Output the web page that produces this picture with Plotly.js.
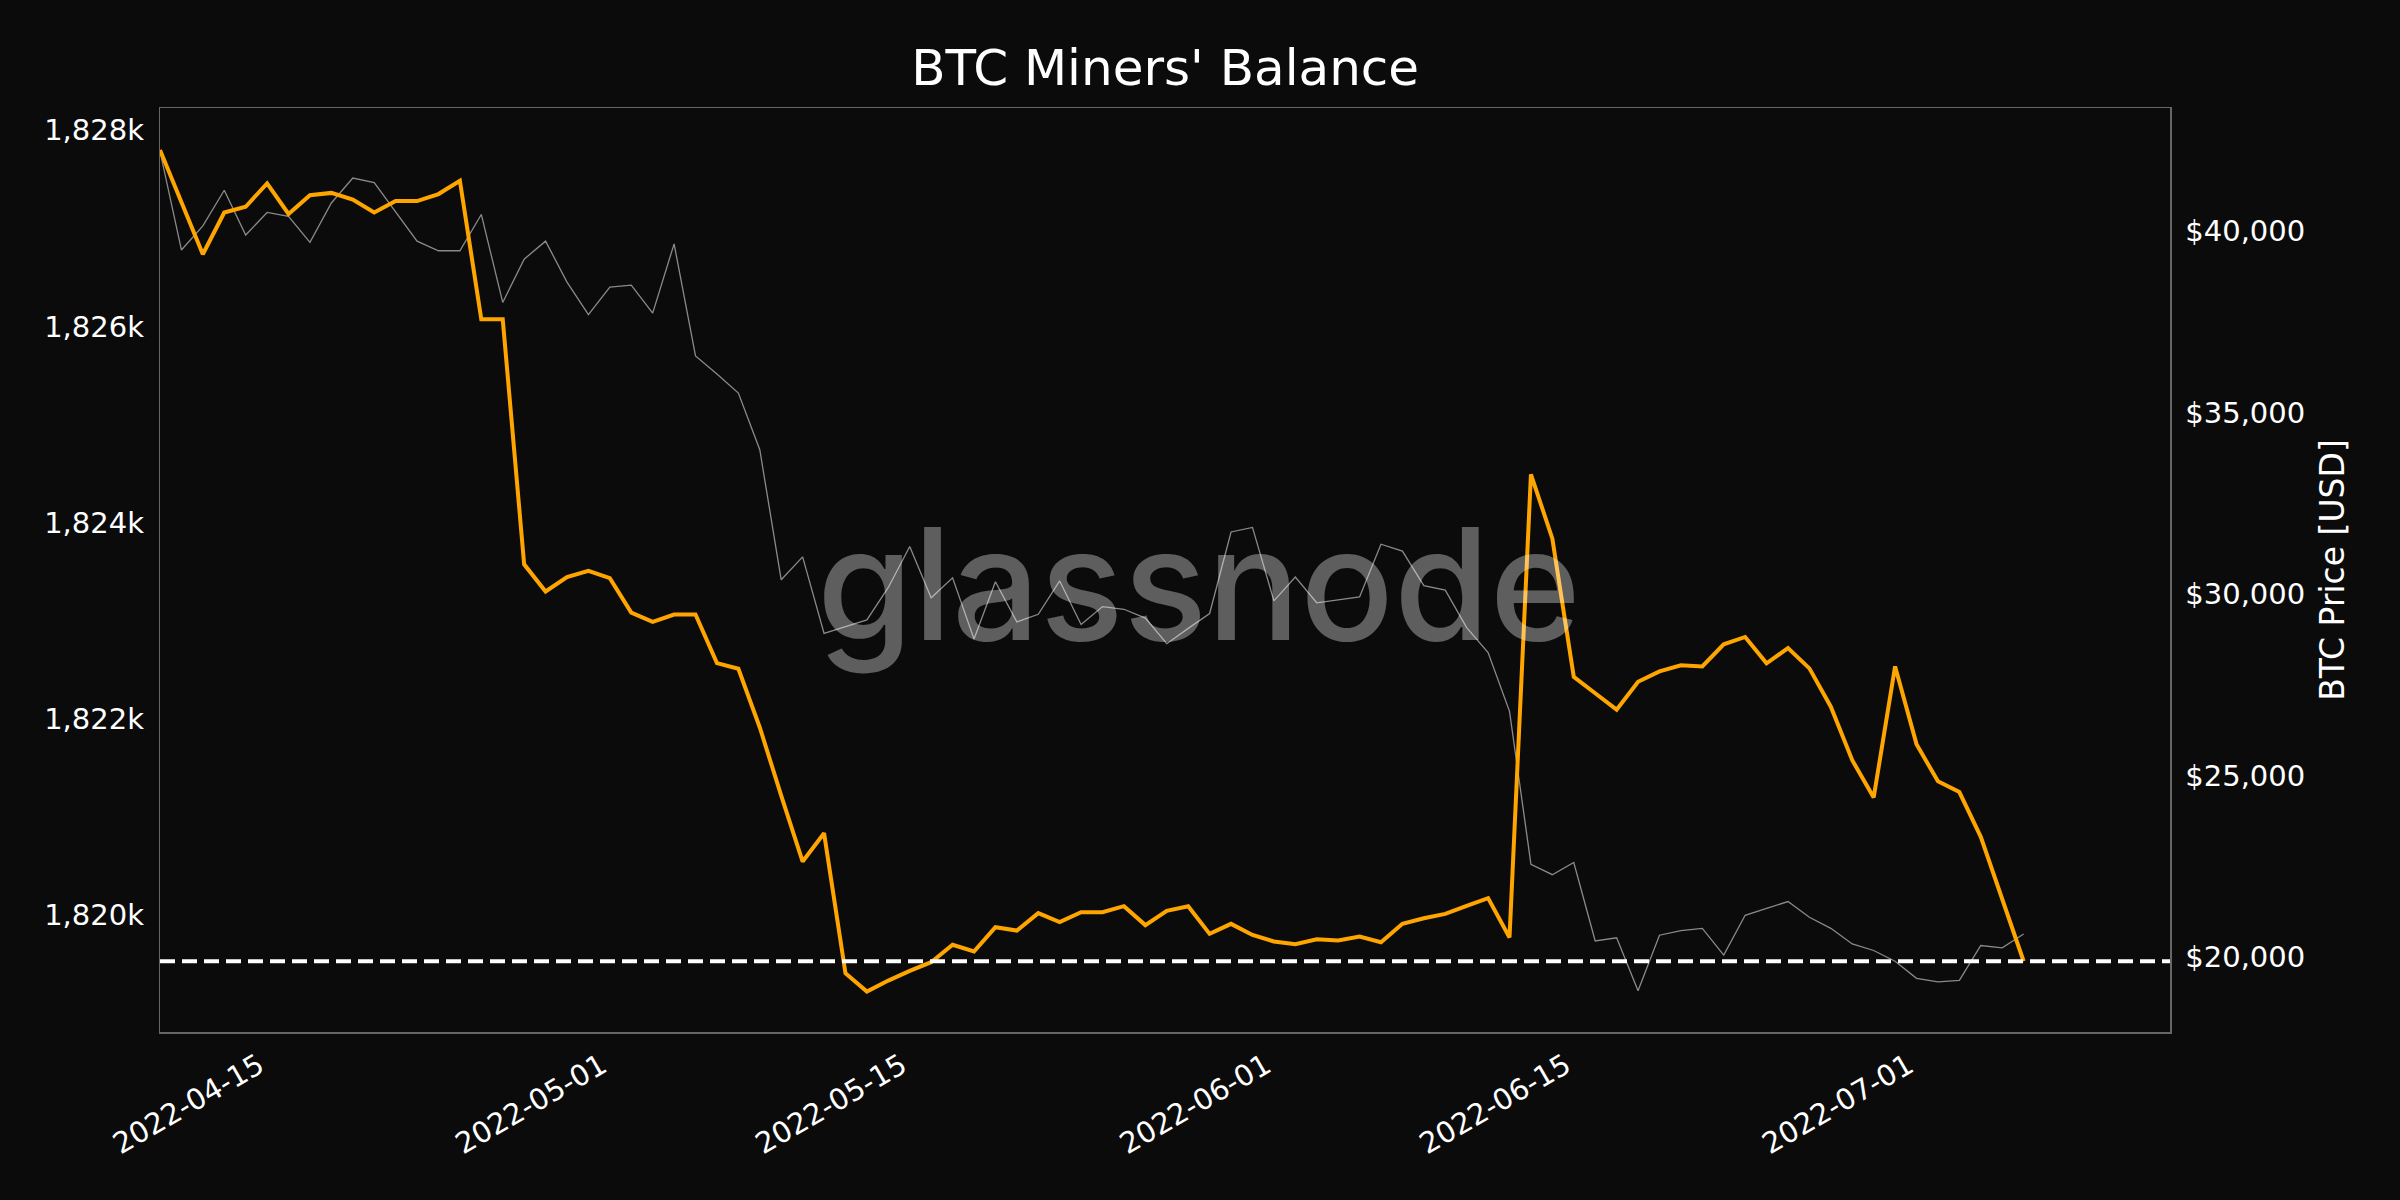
<!DOCTYPE html>
<html>
<head>
<meta charset="utf-8">
<script src="https://cdn.plot.ly/plotly-3.0.1.min.js"></script>
<style>
  html, body { margin: 0; padding: 0; background: #0b0b0b; }
  #chart { width: 2400px; height: 1200px; }
</style>
</head>
<body>
<div id="chart"></div>
<script>
// ---- data ----
const dates = [
  '2022-04-10','2022-04-11','2022-04-12','2022-04-13','2022-04-14','2022-04-15','2022-04-16','2022-04-17','2022-04-18','2022-04-19',
  '2022-04-20','2022-04-21','2022-04-22','2022-04-23','2022-04-24','2022-04-25','2022-04-26','2022-04-27','2022-04-28','2022-04-29',
  '2022-04-30','2022-05-01','2022-05-02','2022-05-03','2022-05-04','2022-05-05','2022-05-06','2022-05-07','2022-05-08','2022-05-09',
  '2022-05-10','2022-05-11','2022-05-12','2022-05-13','2022-05-14','2022-05-15','2022-05-16','2022-05-17','2022-05-18','2022-05-19',
  '2022-05-20','2022-05-21','2022-05-22','2022-05-23','2022-05-24','2022-05-25','2022-05-26','2022-05-27','2022-05-28','2022-05-29',
  '2022-05-30','2022-05-31','2022-06-01','2022-06-02','2022-06-03','2022-06-04','2022-06-05','2022-06-06','2022-06-07','2022-06-08',
  '2022-06-09','2022-06-10','2022-06-11','2022-06-12','2022-06-13','2022-06-14','2022-06-15','2022-06-16','2022-06-17','2022-06-18',
  '2022-06-19','2022-06-20','2022-06-21','2022-06-22','2022-06-23','2022-06-24','2022-06-25','2022-06-26','2022-06-27','2022-06-28',
  '2022-06-29','2022-06-30','2022-07-01','2022-07-02','2022-07-03','2022-07-04','2022-07-05','2022-07-06'
];

const minersBalance = [
  1827797,1827270,1826736,1827161,1827220,1827458,1827146,1827337,1827361,1827294,
  1827161,1827278,1827278,1827349,1827485,1826073,1826073,1823576,1823300,1823447,
  1823510,1823436,1823085,1822991,1823065,1823065,1822570,1822512,1821914,1821220,
  1820548,1820837,1819410,1819223,1819335,1819434,1819522,1819700,1819631,1819879,
  1819845,1820022,1819930,1820032,1820032,1820093,1819900,1820046,1820093,1819811,
  1819913,1819800,1819733,1819705,1819756,1819743,1819784,1819726,1819913,1819970,
  1820015,1820097,1820175,1819774,1824493,1823838,1822430,1822263,1822095,1822380,
  1822485,1822547,1822536,1822762,1822836,1822567,1822723,1822516,1822126,1821580,
  1821200,1822536,1821744,1821365,1821256,1820800,1820156,1819532
];

const btcPrice = [
  42205,39485,40149,41130,39896,40518,40411,39694,40780,41467,
  41340,40518,39728,39463,39463,40463,38038,39232,39728,38598,
  37702,38460,38515,37743,39653,36563,36067,35538,33978,30393,
  31024,28916,29095,29285,30181,31311,29897,30445,28759,30340,
  29233,29442,30360,29158,29654,29580,29337,28632,29053,29464,
  31711,31837,29811,30467,29759,29844,29919,31374,31184,30233,
  30106,29073,28389,26766,22549,22263,22599,20438,20524,19066,
  20595,20722,20785,20047,21144,21334,21524,21091,20785,20353,
  20174,19879,19405,19308,19352,20311,20248,20628
];

const xTickVals = ['2022-04-15','2022-05-01','2022-05-15','2022-06-01','2022-06-15','2022-07-01'];
const xTickText = ['2022-04-15','2022-05-01','2022-05-15','2022-06-01','2022-06-15','2022-07-01'];
const balTickVals = [1820000,1822000,1824000,1826000,1828000];
const balTickText = ['1,820k','1,822k','1,824k','1,826k','1,828k'];
const priceTickVals = [20000,25000,30000,35000,40000];
const priceTickText = ['$20,000','$25,000','$30,000','$35,000','$40,000'];

const titleText = "BTC Miners' Balance";
const priceAxisTitle = 'BTC Price [USD]';
const watermarkText = 'glassnode';

// ---- chart ----
const font = 'DejaVu Sans, sans-serif';
const lastBalance = minersBalance[minersBalance.length - 1];

const traces = [
  {
    x: dates, y: btcPrice, type: 'scatter', mode: 'lines',
    yaxis: 'y', line: { color: '#8a8a8a', width: 1.3 },
    hoverinfo: 'skip', showlegend: false
  },
  {
    x: dates, y: minersBalance, type: 'scatter', mode: 'lines',
    yaxis: 'y2', line: { color: '#ffa500', width: 4 },
    hoverinfo: 'skip', showlegend: false
  }
];

const layout = {
  width: 2400, height: 1200,
  paper_bgcolor: '#0b0b0b', plot_bgcolor: '#0b0b0b',
  margin: { l: 160, r: 230, t: 108, b: 168, pad: 0 },
  showlegend: false,
  font: { family: font, color: '#ffffff', size: 29 },
  title: {
    text: titleText,
    font: { family: font, size: 50, color: '#ffffff' },
    x: 0.4855, xanchor: 'center', xref: 'container',
    y: 0.9435, yanchor: 'middle', yref: 'container'
  },
  xaxis: {
    type: 'date',
    range: ['2022-04-10', '2022-07-12 20:00'],
    tickvals: xTickVals, ticktext: xTickText,
    tickangle: -30, ticks: '', showgrid: false, zeroline: false,
    showline: true, linecolor: '#666666', linewidth: 1.5, mirror: true,
    tickfont: { family: font, size: 29, color: '#ffffff' },
    ticklabelshift: -8, ticklabelstandoff: 4
  },
  yaxis: {
    side: 'right',
    range: [17927, 43398],
    tickvals: priceTickVals, ticktext: priceTickText,
    ticks: '', showgrid: false, zeroline: false,
    showline: true, linecolor: '#666666', linewidth: 1.5, mirror: true,
    tickfont: { family: font, size: 29, color: '#ffffff' },
    ticklabelstandoff: 8,
    title: { text: priceAxisTitle, font: { family: font, size: 33, color: '#ffffff' }, standoff: 16 }
  },
  yaxis2: {
    side: 'left', overlaying: 'y',
    range: [1818811, 1828226],
    tickvals: balTickVals, ticktext: balTickText,
    ticks: '', showgrid: false, zeroline: false,
    showline: false,
    tickfont: { family: font, size: 29, color: '#ffffff' },
    ticklabelstandoff: 15
  },
  shapes: [
    {
      type: 'line', xref: 'paper', x0: 0, x1: 1,
      yref: 'y2', y0: lastBalance, y1: lastBalance,
      line: { color: '#ffffff', width: 4, dash: '15px,7px' },
      layer: 'above'
    }
  ],
  annotations: [
    {
      text: watermarkText, xref: 'paper', yref: 'paper',
      x: 0.517, y: 0.485, xanchor: 'center', yanchor: 'middle',
      showarrow: false,
      font: { family: 'Inter, sans-serif', size: 155, color: 'rgba(255,255,255,0.34)', weight: 500 }
    }
  ]
};

Plotly.newPlot('chart', traces, layout, { staticPlot: true, displayModeBar: false });
</script>
</body>
</html>
